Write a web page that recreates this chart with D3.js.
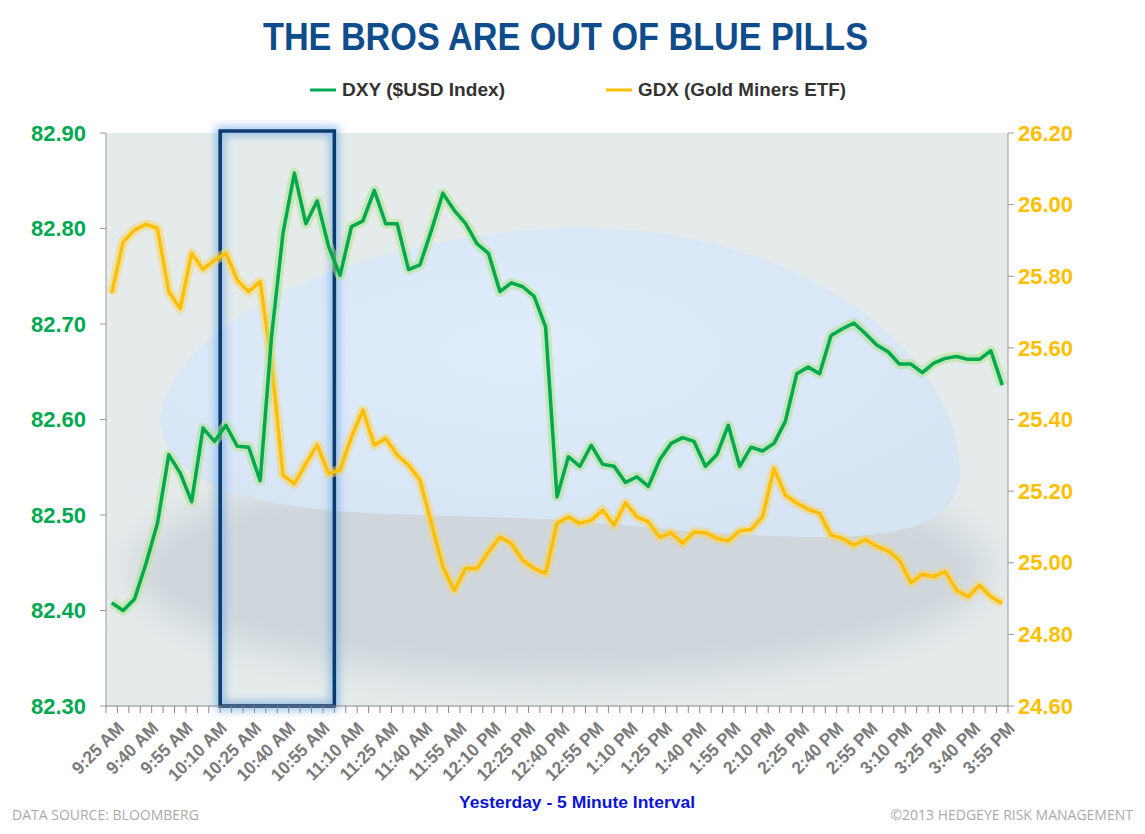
<!DOCTYPE html>
<html><head><meta charset="utf-8">
<script src="https://cdn.jsdelivr.net/npm/d3@7"></script>
<style>body{margin:0;background:#fff}svg{display:block}</style>
</head><body>
<svg id="c" width="1145" height="834"></svg>
<script>
const times = ["9:25 AM","9:30 AM","9:35 AM","9:40 AM","9:45 AM","9:50 AM","9:55 AM","10:00 AM","10:05 AM","10:10 AM","10:15 AM","10:20 AM","10:25 AM","10:30 AM","10:35 AM","10:40 AM","10:45 AM","10:50 AM","10:55 AM","11:00 AM","11:05 AM","11:10 AM","11:15 AM","11:20 AM","11:25 AM","11:30 AM","11:35 AM","11:40 AM","11:45 AM","11:50 AM","11:55 AM","12:00 PM","12:05 PM","12:10 PM","12:15 PM","12:20 PM","12:25 PM","12:30 PM","12:35 PM","12:40 PM","12:45 PM","12:50 PM","12:55 PM","1:00 PM","1:05 PM","1:10 PM","1:15 PM","1:20 PM","1:25 PM","1:30 PM","1:35 PM","1:40 PM","1:45 PM","1:50 PM","1:55 PM","2:00 PM","2:05 PM","2:10 PM","2:15 PM","2:20 PM","2:25 PM","2:30 PM","2:35 PM","2:40 PM","2:45 PM","2:50 PM","2:55 PM","3:00 PM","3:05 PM","3:10 PM","3:15 PM","3:20 PM","3:25 PM","3:30 PM","3:35 PM","3:40 PM","3:45 PM","3:50 PM","3:55 PM"];
const dxy = [82.408,82.400,82.412,82.449,82.491,82.563,82.544,82.514,82.591,82.577,82.594,82.572,82.571,82.536,82.687,82.795,82.858,82.805,82.829,82.781,82.751,82.802,82.808,82.840,82.805,82.805,82.757,82.762,82.798,82.837,82.819,82.805,82.784,82.774,82.734,82.743,82.739,82.729,82.697,
82.519,82.561,82.551,82.573,82.553,82.551,82.534,82.540,82.530,82.558,82.575,82.581,82.577,82.551,82.563,82.594,82.551,82.571,82.567,82.575,82.598,82.648,82.655,82.648,82.688,82.695,82.701,82.690,82.678,82.671,82.658,82.658,82.649,82.659,82.664,82.666,82.663,82.663,82.672,82.636];
const gdx = [25.752,25.896,25.929,25.945,25.934,25.757,25.710,25.864,25.819,25.845,25.864,25.789,25.757,25.785,25.557,25.245,25.220,25.277,25.329,25.249,25.259,25.352,25.426,25.329,25.347,25.301,25.273,25.231,25.110,24.989,24.923,24.984,24.984,25.030,25.072,25.054,25.007,24.984,24.970,
25.110,25.128,25.110,25.119,25.147,25.105,25.167,25.128,25.114,25.071,25.084,25.054,25.086,25.084,25.068,25.061,25.089,25.093,25.128,25.263,25.189,25.167,25.149,25.138,25.077,25.068,25.049,25.065,25.046,25.033,25.007,24.944,24.968,24.961,24.975,24.923,24.905,24.937,24.905,24.886];
const leftTicks = [82.30,82.40,82.50,82.60,82.70,82.80,82.90];
const rightTicks = [24.60,24.80,25.00,25.20,25.40,25.60,25.80,26.00,26.20];
const highlight = ["10:15 AM","11:00 AM"];

const svg = d3.select("#c");
const L=106,R=1008,T=133,B=706;
const x = d3.scaleBand().domain(times).range([L,R]);
const yL = d3.scaleLinear().domain([82.30,82.90]).range([B,T]);
const yR = d3.scaleLinear().domain([24.60,26.20]).range([B,T]);
const font = "'Liberation Sans','Roboto',sans-serif";

const defs = svg.append("defs");
const bg = defs.append("radialGradient").attr("id","pill").attr("cx","0.45").attr("cy","0.4").attr("r","0.6");
bg.append("stop").attr("offset","0").attr("stop-color","#e0edfb");
bg.append("stop").attr("offset","1").attr("stop-color","#d6e4f4");
const glow = defs.append("filter").attr("id","glow").attr("x","-50%").attr("y","-10%").attr("width","200%").attr("height","120%");
glow.append("feGaussianBlur").attr("stdDeviation","4");
const soft = defs.append("filter").attr("id","soft").attr("x","-20%").attr("y","-20%").attr("width","140%").attr("height","140%");
soft.append("feGaussianBlur").attr("stdDeviation","18");

svg.append("rect").attr("x",L).attr("y",T).attr("width",R-L).attr("height",B-T).attr("fill","#e5ebea");
svg.append("ellipse").attr("cx",560).attr("cy",570).attr("rx",430).attr("ry",110).attr("fill","#cfd6dc").attr("filter","url(#soft)");
svg.append("path").attr("d","M160,420 C170,330 330,240 560,228 C790,220 960,350 960,470 C960,560 800,540 560,520 C400,510 170,530 160,420 Z")
  .attr("fill","url(#pill)");

const bx0 = x(highlight[0]), bx1 = x(highlight[1]) + x.bandwidth();
svg.append("rect").attr("x",bx0).attr("y",T-2).attr("width",bx1-bx0).attr("height",B-T+2)
  .attr("fill","none").attr("stroke","#5a9be0").attr("stroke-width",9).attr("opacity",0.6).attr("filter","url(#glow)");
svg.append("rect").attr("x",bx0).attr("y",T-2).attr("width",bx1-bx0).attr("height",B-T+2)
  .attr("fill","none").attr("stroke","#0b3a6e").attr("stroke-width",3.5);

const cx = d => x(d) + x.bandwidth()/2;
const lineL = d3.line().x((d,i)=>cx(times[i])).y(d=>yL(d));
const lineR = d3.line().x((d,i)=>cx(times[i])).y(d=>yR(d));
function draw(line,data,col,glowCol){
  svg.append("path").datum(data).attr("d",line).attr("fill","none").attr("stroke",glowCol).attr("stroke-width",10).attr("opacity",0.55).attr("stroke-linejoin","round");
  svg.append("path").datum(data).attr("d",line).attr("fill","none").attr("stroke",col).attr("stroke-width",3.5).attr("stroke-linejoin","round");
}
draw(lineR,gdx,"#ffbf00","#f5d66a");
draw(lineL,dxy,"#00a94f","#aee38a");

const ax = svg.append("g").attr("transform",`translate(0,${B})`);
ax.append("line").attr("x1",L).attr("x2",R).attr("stroke","#888").attr("stroke-width",1.2);
const bounds = times.map(t=>x(t)).concat([R]);
ax.selectAll("line.t").data(bounds).join("line").attr("x1",d=>d).attr("x2",d=>d).attr("y1",0).attr("y2",7).attr("stroke","#888");
ax.selectAll("text").data(times.filter((t,i)=>i%3===0)).join("text")
  .attr("transform",d=>`translate(${cx(d)+4},${14}) rotate(-45) scale(0.95,1)`).attr("text-anchor","end")
  .attr("font-family",font).attr("font-weight","bold").attr("font-size",18).attr("fill","#7a7a7a").attr("dy","0.75em").text(d=>d);

svg.append("line").attr("x1",L).attr("x2",L).attr("y1",T).attr("y2",B).attr("stroke","#999");
svg.append("line").attr("x1",R).attr("x2",R).attr("y1",T).attr("y2",B).attr("stroke","#999");
svg.selectAll("line.lt").data(leftTicks).join("line").attr("x1",L-6).attr("x2",L).attr("y1",d=>yL(d)).attr("y2",d=>yL(d)).attr("stroke","#999");
svg.selectAll("line.rt").data(rightTicks).join("line").attr("x1",R).attr("x2",R+6).attr("y1",d=>yR(d)).attr("y2",d=>yR(d)).attr("stroke","#999");
svg.selectAll("text.lt").data(leftTicks).join("text").attr("x",86).attr("y",d=>yL(d)).attr("dy","0.35em").attr("text-anchor","end")
  .attr("font-family",font).attr("font-weight","bold").attr("font-size",22).attr("fill","#00a94f").text(d=>d.toFixed(2));
svg.selectAll("text.rt").data(rightTicks).join("text").attr("x",1018).attr("y",d=>yR(d)).attr("dy","0.35em")
  .attr("font-family",font).attr("font-weight","bold").attr("font-size",22).attr("fill","#ffbf00").text(d=>d.toFixed(2));

svg.append("text").attr("x",263).attr("y",50).attr("textLength",605).attr("lengthAdjust","spacingAndGlyphs").attr("font-family",font).attr("font-weight","bold")
  .attr("font-size",38).attr("fill","#0e4c8c").text("THE BROS ARE OUT OF BLUE PILLS");
const leg=[["DXY ($USD Index)","#00a94f",310,163],["GDX (Gold Miners ETF)","#ffbf00",606,208]];
leg.forEach(([t,c,x0,w])=>{
  svg.append("line").attr("x1",x0).attr("x2",x0+26).attr("y1",90).attr("y2",90).attr("stroke",c).attr("stroke-width",3);
  svg.append("text").attr("x",x0+32).attr("y",90).attr("dy","0.35em").attr("textLength",w).attr("lengthAdjust","spacingAndGlyphs")
    .attr("font-family",font).attr("font-weight","bold").attr("font-size",18).attr("fill","#333").text(t);
});
svg.append("text").attr("x",12).attr("y",820).attr("font-family","'Open Sans',sans-serif").attr("font-size",14).attr("fill","#aaa").text("DATA SOURCE: BLOOMBERG");
svg.append("text").attr("x",459).attr("y",808).attr("textLength",236).attr("lengthAdjust","spacingAndGlyphs").attr("font-family",font).attr("font-weight","bold").attr("font-size",17).attr("fill","#0a14d8").text("Yesterday - 5 Minute Interval");
svg.append("text").attr("x",1133).attr("y",820).attr("text-anchor","end").attr("font-family","'Open Sans',sans-serif").attr("font-size",14).attr("fill","#aaa").text("©2013 HEDGEYE RISK MANAGEMENT");
</script></body></html>
